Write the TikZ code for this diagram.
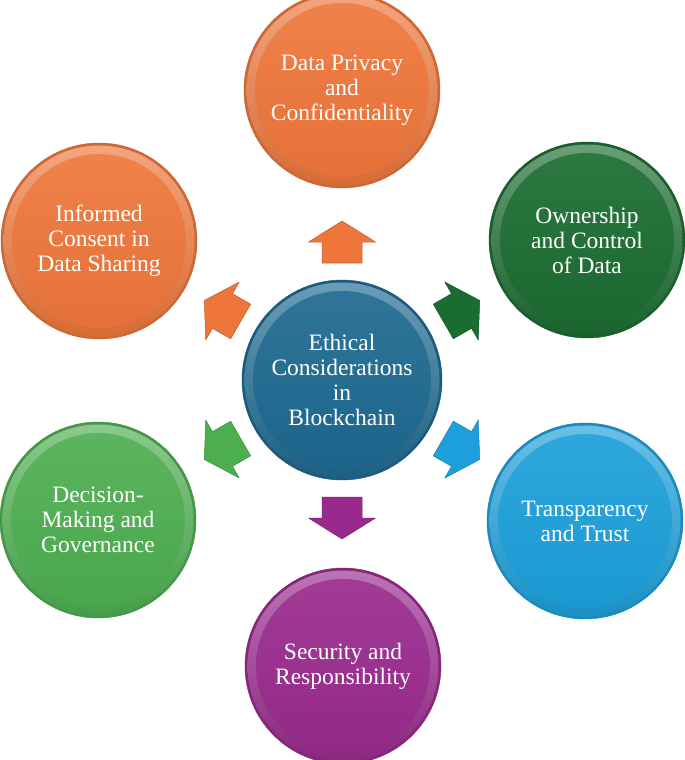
\documentclass[tikz,border=0pt]{standalone}
\usepackage{fontspec}
\newfontfamily\bubblefont{Liberation Serif}
\definecolor{orangeC}{HTML}{EE763A}
\definecolor{dgreenC}{HTML}{1B6C31}
\definecolor{greenC}{HTML}{4DAE50}
\definecolor{blueC}{HTML}{1C9FDA}
\definecolor{purpleC}{HTML}{992A8D}
\definecolor{tealC}{HTML}{1D6990}
\def\ringr{95.5pt}
\def\innr{87pt}
\tikzset{
  radii/.code 2 args={\def\ringr{#1}\def\innr{#2}},
  bubble/.style={circle, inner sep=0pt, minimum size=196pt,
    fill=#1!88!black, draw=#1!80!black, line width=0.4pt,
    text=white, align=center,
    font={\bubblefont\fontsize{23.5}{25}\selectfont},
    path picture={
      \shade[top color=#1!65!white, bottom color=#1!90!black]
        (path picture bounding box.center) circle (\ringr);
      \shade[top color=#1!92!white, middle color=#1, bottom color=#1!96!black]
        (path picture bounding box.center) circle (\innr);
    }},
  blockarrow/.style={fill=#1, draw=#1!80!black, line width=0.5pt, line join=round}
}
\newcommand{\blockarrow}[3]{%
  \begin{scope}[shift={(#1.center)}, rotate=#2]
    \filldraw[blockarrow=#3] (117,-20) -- (138,-20) -- (138,-33.5) -- (159,0)
      -- (138,33.5) -- (138,20) -- (117,20) -- cycle;
  \end{scope}}
\begin{document}
\begin{tikzpicture}[x=1pt, y=-1pt]
  \useasboundingbox (0,0) rectangle (685,760);
  \fill[white] (0,0) rectangle (685,760);

  \node[bubble=tealC, minimum size=200pt, radii={97.5pt}{89pt}] (c) at (342,380)
    {Ethical\\Considerations\\in\\Blockchain};

  \node[bubble=orangeC] (t)  at (342,90)  {Data Privacy\\and\\Confidentiality};
  \node[bubble=orangeC] (tl) at (99,241)  {Informed\\Consent in\\Data Sharing};
  \node[bubble=dgreenC] (tr) at (587,240) {Ownership\\and Control\\of Data};
  \node[bubble=greenC]  (bl) at (98,520)  {Decision-\\Making and\\Governance};
  \node[bubble=blueC]   (br) at (585,521) {Transparency\\and Trust};
  \node[bubble=purpleC] (b)  at (343,666) {Security and\\Responsibility};

  \blockarrow{c}{90}{orangeC}
  \blockarrow{c}{150}{orangeC}
  \blockarrow{c}{30}{dgreenC}
  \blockarrow{c}{210}{greenC}
  \blockarrow{c}{330}{blueC}
  \blockarrow{c}{270}{purpleC}
\end{tikzpicture}
\end{document}
